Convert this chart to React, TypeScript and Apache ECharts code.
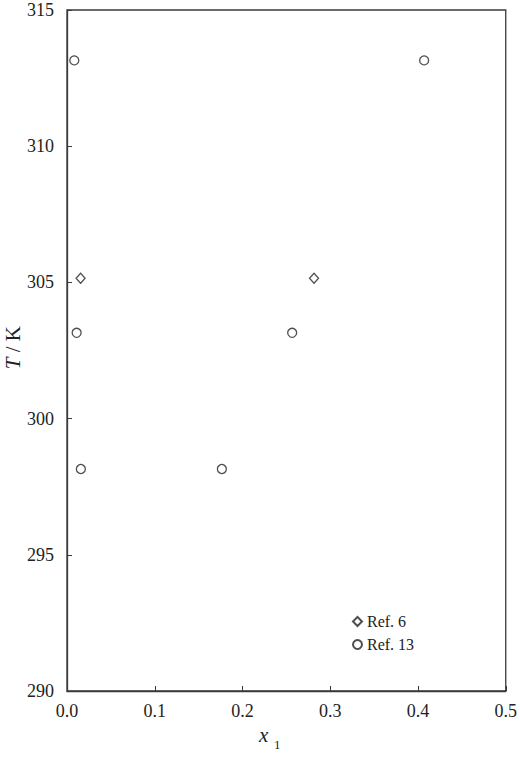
import * as echarts from 'echarts'
import { useEffect, useRef } from 'react'

// x1 / T(K)
const ref6X = [0.0155, 0.2815]
const ref6T = [305.15, 305.15]
const ref13X = [0.0083, 0.407, 0.011, 0.2566, 0.0158, 0.1765]
const ref13T = [313.15, 313.15, 303.15, 303.15, 298.15, 298.15]

const seriesNames = ['Ref. 6', 'Ref. 13']
const xTicks = [0, 0.1, 0.2, 0.3, 0.4, 0.5]
const yTicks = [290, 295, 300, 305, 310, 315]

const font = 'Liberation Serif'
const ink = '#222'

export default function App() {
  const ref = useRef<HTMLDivElement>(null)

  useEffect(() => {
    if (!ref.current) return
    const chart = echarts.init(ref.current, undefined, { renderer: 'svg' })

    const marker = {
      color: '#fff',
      borderColor: ink,
      borderWidth: 1.3,
    }
    // axis labels go through rich text so the serif face sticks
    const tickRich = {
      t: { fontSize: 18, color: ink, fontFamily: font },
    }

    chart.setOption({
      animation: false,
      backgroundColor: '#fff',
      textStyle: { fontFamily: font },
      grid: {
        left: 67,
        right: 12,
        top: 10,
        bottom: 69,
        show: true,
        borderColor: '#3a3a3a',
        borderWidth: 1.3,
      },
      xAxis: {
        type: 'value',
        min: xTicks[0],
        max: xTicks[xTicks.length - 1],
        interval: 0.1,
        axisLine: { show: true, lineStyle: { color: '#3a3a3a', width: 1.3 } },
        axisTick: { inside: true, length: 5, lineStyle: { color: '#3a3a3a' } },
        splitLine: { show: false },
        axisLabel: {
          margin: 11,
          fontFamily: font,
          fontSize: 18,
          color: ink,
          rich: tickRich,
          formatter: (v: number) => `{t|${v.toFixed(1)}}`,
        },
      },
      yAxis: {
        type: 'value',
        min: yTicks[0],
        max: yTicks[yTicks.length - 1],
        interval: 5,
        axisLine: { show: true, lineStyle: { color: '#3a3a3a', width: 1.3 } },
        axisTick: { inside: true, length: 5, lineStyle: { color: '#3a3a3a' } },
        splitLine: { show: false },
        axisLabel: {
          margin: 13,
          fontFamily: font,
          fontSize: 18,
          color: ink,
          rich: tickRich,
          formatter: (v: number) => `{t|${v}}`,
        },
      },
      legend: {
        orient: 'vertical',
        left: 347,
        top: 608,
        itemWidth: 9,
        itemHeight: 9,
        itemGap: 6,
        textStyle: { fontSize: 16, color: ink, fontFamily: font, lineHeight: 17 },
        data: seriesNames,
      },
      graphic: [
        {
          type: 'text',
          left: 2,
          top: 326,
          rotation: Math.PI / 2,
          style: {
            text: '{i|T} / K',
            rich: { i: { fontStyle: 'italic', fontSize: 21, fontFamily: font, fill: ink } },
            fontSize: 21,
            fontFamily: font,
            fill: ink,
          },
        },
        {
          type: 'text',
          left: 259,
          top: 724,
          style: { text: 'x', fontStyle: 'italic', fontSize: 21, fontFamily: font, fill: ink },
        },
        {
          type: 'text',
          left: 274,
          top: 738,
          style: { text: '1', fontSize: 13, fontFamily: font, fill: ink },
        },
      ],
      series: [
        {
          name: seriesNames[0],
          type: 'scatter',
          symbol: 'diamond',
          symbolSize: [9, 10],
          itemStyle: marker,
          data: ref6X.map((x, i) => [x, ref6T[i]]),
        },
        {
          name: seriesNames[1],
          type: 'scatter',
          symbol: 'circle',
          symbolSize: 9,
          itemStyle: marker,
          data: ref13X.map((x, i) => [x, ref13T[i]]),
        },
      ],
    })

    return () => chart.dispose()
  }, [])

  return (
    <div
      ref={ref}
      style={{ position: 'absolute', left: 0, top: 0, width: 520, height: 760 }}
    />
  )
}
